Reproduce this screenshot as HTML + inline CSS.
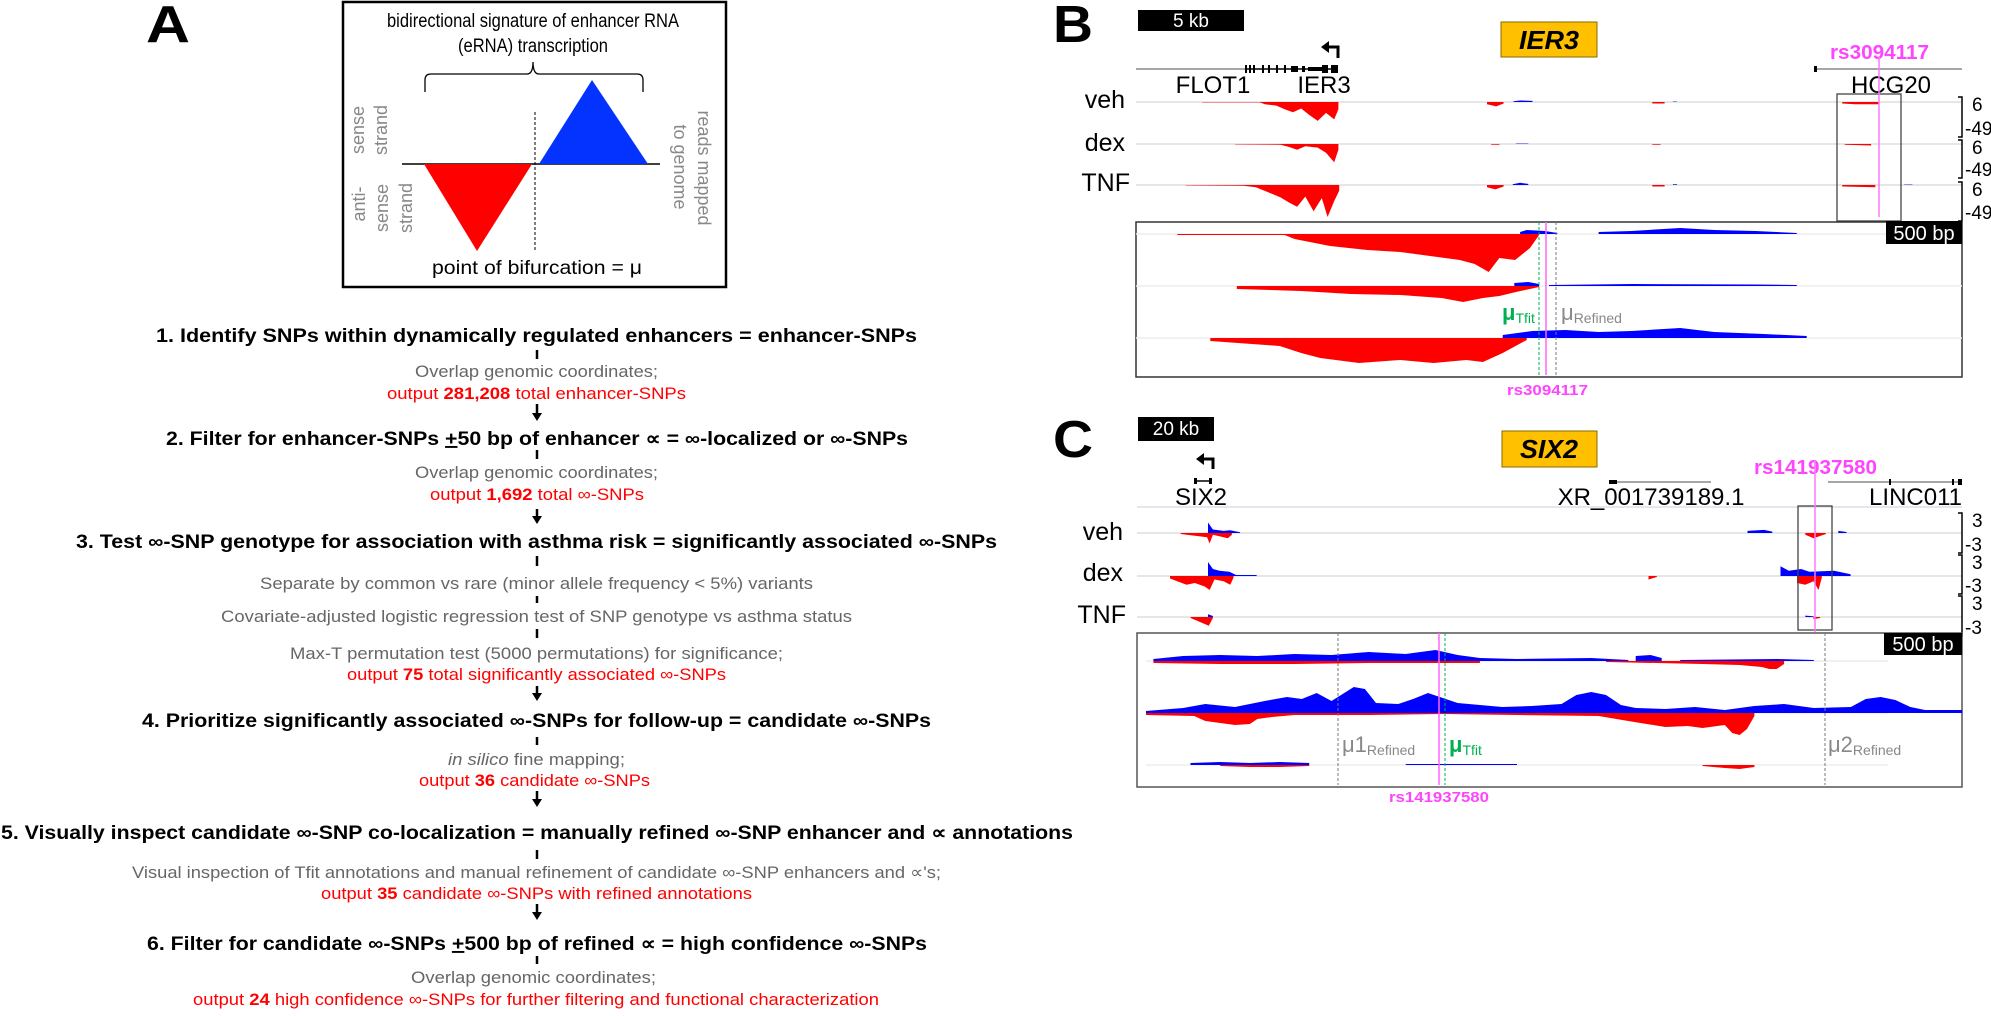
<!DOCTYPE html>
<html><head><meta charset="utf-8"><title>eRNA enhancer SNP pipeline</title>
<style>
html,body{margin:0;padding:0;background:#fff;}
svg{display:block;font-family:"Liberation Sans",Arial,sans-serif;}
.h{font-weight:bold;font-size:19px;fill:#000;}
.g{font-size:17px;fill:#666;}
.r{font-size:17px;fill:#f00;}
.lab{font-size:24px;fill:#000;}
.gray{fill:#888;font-size:18px;}
</style></head>
<body>
<svg id="fig" width="1991" height="1016" viewBox="0 0 1991 1016" xmlns="http://www.w3.org/2000/svg">
<!-- PANEL A -->
<g>
<text x="168" y="42" text-anchor="middle" font-weight="bold" font-size="52" textLength="44" lengthAdjust="spacingAndGlyphs">A</text>
<rect x="343" y="2" width="383" height="285" fill="none" stroke="#000" stroke-width="2.5"/>
<text x="533" y="27" text-anchor="middle" font-size="19" textLength="292" lengthAdjust="spacingAndGlyphs">bidirectional signature of enhancer RNA</text>
<text x="533" y="52" text-anchor="middle" font-size="19" textLength="150" lengthAdjust="spacingAndGlyphs">(eRNA) transcription</text>
<path d="M425 92 L425 80 Q425 74 431 74 L527 74 Q533 74 533 62 Q533 74 539 74 L637 74 Q643 74 643 80 L643 92" fill="none" stroke="#000" stroke-width="1.3"/>
<line x1="402" y1="164" x2="660" y2="164" stroke="#000" stroke-width="1.5"/>
<line x1="535" y1="112" x2="535" y2="250" stroke="#000" stroke-width="1" stroke-dasharray="3,2"/>
<polygon points="424,164 532,164 477,251" fill="#ff0000"/>
<polygon points="539,164 648,164 592,80" fill="#0433ff"/>
<g class="gray">
<text transform="translate(358,130) rotate(-90)" text-anchor="middle" dominant-baseline="central">sense</text>
<text transform="translate(381,130) rotate(-90)" text-anchor="middle" dominant-baseline="central">strand</text>
<text transform="translate(359,204) rotate(-90)" text-anchor="middle" dominant-baseline="central">anti-</text>
<text transform="translate(382,208) rotate(-90)" text-anchor="middle" dominant-baseline="central">sense</text>
<text transform="translate(406,208) rotate(-90)" text-anchor="middle" dominant-baseline="central">strand</text>
<text transform="translate(704,168) rotate(90)" text-anchor="middle" dominant-baseline="central">reads mapped</text>
<text transform="translate(680,167) rotate(90)" text-anchor="middle" dominant-baseline="central">to genome</text>
</g>
<text x="537" y="274" text-anchor="middle" font-size="19" textLength="210" lengthAdjust="spacingAndGlyphs">point of bifurcation = μ</text>

<g>
<text class="h" x="156" y="342" textLength="761" lengthAdjust="spacingAndGlyphs">1. Identify SNPs within dynamically regulated enhancers = enhancer-SNPs</text>
<text class="g" x="415" y="377" textLength="243" lengthAdjust="spacingAndGlyphs">Overlap genomic coordinates;</text>
<text class="r" x="387" y="399" textLength="299" lengthAdjust="spacingAndGlyphs">output <tspan font-weight="bold">281,208</tspan> total enhancer-SNPs</text>

<text class="h" x="166" y="445" textLength="742" lengthAdjust="spacingAndGlyphs">2. Filter for enhancer-SNPs <tspan text-decoration="underline">+</tspan>50 bp of enhancer ∝ = ∞-localized or ∞-SNPs</text>
<text class="g" x="415" y="478" textLength="243" lengthAdjust="spacingAndGlyphs">Overlap genomic coordinates;</text>
<text class="r" x="430" y="500" textLength="214" lengthAdjust="spacingAndGlyphs">output <tspan font-weight="bold">1,692</tspan> total ∞-SNPs</text>

<text class="h" x="76" y="548" textLength="921" lengthAdjust="spacingAndGlyphs">3. Test ∞-SNP genotype for association with asthma risk = significantly associated ∞-SNPs</text>
<text class="g" x="260" y="589" textLength="553" lengthAdjust="spacingAndGlyphs">Separate by common vs rare (minor allele frequency &lt; 5%) variants</text>
<text class="g" x="221" y="622" textLength="631" lengthAdjust="spacingAndGlyphs">Covariate-adjusted logistic regression test of SNP genotype vs asthma status</text>
<text class="g" x="290" y="659" textLength="493" lengthAdjust="spacingAndGlyphs">Max-T permutation test (5000 permutations) for significance;</text>
<text class="r" x="347" y="680" textLength="379" lengthAdjust="spacingAndGlyphs">output <tspan font-weight="bold">75</tspan> total significantly associated ∞-SNPs</text>

<text class="h" x="142" y="727" textLength="789" lengthAdjust="spacingAndGlyphs">4. Prioritize significantly associated ∞-SNPs for follow-up = candidate ∞-SNPs</text>
<text class="g" x="448" y="765" textLength="177" lengthAdjust="spacingAndGlyphs"><tspan font-style="italic">in silico</tspan> fine mapping;</text>
<text class="r" x="419" y="786" textLength="231" lengthAdjust="spacingAndGlyphs">output <tspan font-weight="bold">36</tspan> candidate ∞-SNPs</text>

<text class="h" x="1" y="839" textLength="1072" lengthAdjust="spacingAndGlyphs">5. Visually inspect candidate ∞-SNP co-localization = manually refined ∞-SNP enhancer and ∝ annotations</text>
<text class="g" x="132" y="878" textLength="809" lengthAdjust="spacingAndGlyphs">Visual inspection of Tfit annotations and manual refinement of candidate ∞-SNP enhancers and ∝'s;</text>
<text class="r" x="321" y="899" textLength="431" lengthAdjust="spacingAndGlyphs">output <tspan font-weight="bold">35</tspan> candidate ∞-SNPs with refined annotations</text>

<text class="h" x="147" y="950" textLength="780" lengthAdjust="spacingAndGlyphs">6. Filter for candidate ∞-SNPs <tspan text-decoration="underline">+</tspan>500 bp of refined ∝ = high confidence ∞-SNPs</text>
<text class="g" x="411" y="983" textLength="245" lengthAdjust="spacingAndGlyphs">Overlap genomic coordinates;</text>
<text class="r" x="193" y="1005" textLength="686" lengthAdjust="spacingAndGlyphs">output <tspan font-weight="bold">24</tspan> high confidence ∞-SNPs for further filtering and functional characterization</text>

<g stroke="#000" stroke-width="2.5">
<line x1="537" y1="350" x2="537" y2="359"/><line x1="537" y1="450" x2="537" y2="459"/>
<line x1="537" y1="556" x2="537" y2="566"/><line x1="537" y1="596" x2="537" y2="603"/><line x1="537" y1="629" x2="537" y2="638"/>
<line x1="537" y1="737" x2="537" y2="745"/><line x1="537" y1="850" x2="537" y2="859"/><line x1="537" y1="956" x2="537" y2="964"/>
<line x1="537" y1="404" x2="537" y2="414"/><line x1="537" y1="509" x2="537" y2="517"/><line x1="537" y1="686" x2="537" y2="694"/>
<line x1="537" y1="791" x2="537" y2="800"/><line x1="537" y1="904" x2="537" y2="913"/>
</g>
<g fill="#000">
<polygon points="532,413 542,413 537,421"/><polygon points="532,516 542,516 537,524"/><polygon points="532,693 542,693 537,701"/>
<polygon points="532,799 542,799 537,807"/><polygon points="532,912 542,912 537,920"/>
</g>
</g>
</g>

<!-- PANEL B -->
<g>
<text x="1073" y="42" text-anchor="middle" font-weight="bold" font-size="52" textLength="40" lengthAdjust="spacingAndGlyphs">B</text>
<rect x="1138" y="10" width="106" height="21" fill="#000"/>
<text x="1191" y="27" fill="#fff" font-size="19" text-anchor="middle">5 kb</text>
<rect x="1501" y="22" width="96" height="35" fill="#ffc000" stroke="#8a6a00" stroke-width="1"/>
<text x="1549" y="49" text-anchor="middle" font-weight="bold" font-style="italic" font-size="26" textLength="60" lengthAdjust="spacingAndGlyphs">IER3</text>
<text x="1830" y="59" fill="#ff44ff" font-weight="bold" font-size="20" textLength="99" lengthAdjust="spacingAndGlyphs">rs3094117</text>
<g>
<line x1="1136" y1="69" x2="1245" y2="69" stroke="#888" stroke-width="1.5"/>
<line x1="1245" y1="69" x2="1338" y2="69" stroke="#000" stroke-width="1.5"/>
<g fill="#000"><rect x="1245" y="65" width="2" height="8"/><rect x="1249" y="65" width="2" height="8"/><rect x="1253" y="65" width="2" height="8"/><rect x="1262" y="65" width="2" height="8"/><rect x="1268" y="65" width="2" height="8"/><rect x="1276" y="65" width="2" height="8"/><rect x="1284" y="65" width="2" height="8"/><rect x="1291" y="66" width="7" height="6"/><rect x="1302" y="66" width="3" height="6"/><rect x="1308" y="67" width="14" height="4"/><rect x="1322" y="65" width="6" height="8"/><rect x="1331" y="65" width="7" height="8"/></g>
<path d="M1338 58 L1338 47 L1326 47" fill="none" stroke="#000" stroke-width="3"/><polygon points="1321,47 1329,41 1329,53" fill="#000"/>
<line x1="1815" y1="69" x2="1962" y2="69" stroke="#888" stroke-width="1.5"/><rect x="1814" y="66" width="3" height="6" fill="#000"/>
<text class="lab" x="1213" y="93" text-anchor="middle">FLOT1</text>
<text class="lab" x="1324" y="93" text-anchor="middle">IER3</text>
<text class="lab" x="1891" y="93" text-anchor="middle">HCG20</text>
</g>
<g font-size="25" text-anchor="end">
<text x="1125" y="108">veh</text><text x="1125" y="151">dex</text><text x="1130" y="191">TNF</text>
</g>
<g id="bTracks"></g>
<rect x="1837" y="94" width="64" height="127" fill="none" stroke="#444" stroke-width="1.3"/>
<line x1="1879" y1="57" x2="1879" y2="217" stroke="#ff77ff" stroke-width="1.5"/>
<g id="bAxis"></g>
<rect x="1136" y="222" width="826" height="155" fill="none" stroke="#333" stroke-width="1.5"/>
<g id="bZoom"></g>
<rect x="1886" y="221" width="76" height="23" fill="#000"/>
<text x="1924" y="240" fill="#fff" font-size="20" text-anchor="middle">500 bp</text>
<line x1="1539" y1="222" x2="1539" y2="375" stroke="#00b050" stroke-width="1" stroke-dasharray="3,2"/>
<line x1="1546" y1="222" x2="1546" y2="375" stroke="#ff66ff" stroke-width="1.5"/>
<line x1="1556" y1="222" x2="1556" y2="375" stroke="#777" stroke-width="1" stroke-dasharray="3,2"/>
<text x="1502" y="320" fill="#00b050" font-weight="bold" font-size="22">μ<tspan font-size="14" font-weight="normal" dy="3">Tfit</tspan></text>
<text x="1561" y="320" fill="#888" font-size="22">μ<tspan font-size="14" dy="3">Refined</tspan></text>
<text x="1507" y="395" fill="#ff44ff" font-weight="bold" font-size="15" textLength="81" lengthAdjust="spacingAndGlyphs">rs3094117</text>
</g>

<!-- PANEL C -->
<g>
<text x="1073" y="457" text-anchor="middle" font-weight="bold" font-size="52" textLength="40" lengthAdjust="spacingAndGlyphs">C</text>
<rect x="1138" y="417" width="76" height="24" fill="#000"/>
<text x="1176" y="435" fill="#fff" font-size="19" text-anchor="middle">20 kb</text>
<rect x="1502" y="431" width="95" height="36" fill="#ffc000" stroke="#8a6a00" stroke-width="1"/>
<text x="1549" y="458" text-anchor="middle" font-weight="bold" font-style="italic" font-size="26" textLength="58" lengthAdjust="spacingAndGlyphs">SIX2</text>
<text x="1754" y="474" fill="#ff44ff" font-weight="bold" font-size="20" textLength="123" lengthAdjust="spacingAndGlyphs">rs141937580</text>
<g>
<path d="M1213 469 L1213 459 L1201 459" fill="none" stroke="#000" stroke-width="3"/><polygon points="1196,459 1204,453 1204,465" fill="#000"/>
<line x1="1195" y1="481" x2="1211" y2="481" stroke="#000" stroke-width="1.5"/><rect x="1194" y="478" width="3" height="6"/><rect x="1209" y="478" width="3" height="6"/>
<line x1="1609" y1="482" x2="1711" y2="482" stroke="#888" stroke-width="1.5"/><rect x="1609" y="480" width="8" height="4"/>
<line x1="1828" y1="482" x2="1962" y2="482" stroke="#888" stroke-width="1.5"/><rect x="1889" y="479" width="2" height="6"/><rect x="1952" y="479" width="2" height="6"/><rect x="1958" y="479" width="4" height="6"/>
<text class="lab" x="1201" y="505" text-anchor="middle">SIX2</text>
<text class="lab" x="1651" y="505" text-anchor="middle">XR_001739189.1</text>
<text class="lab" x="1962" y="505" text-anchor="end">LINC011</text>
</g>
<line x1="1137" y1="507" x2="1962" y2="507" stroke="#e6e6ee" stroke-width="2"/>
<g font-size="25" text-anchor="end">
<text x="1123" y="540">veh</text><text x="1123" y="581">dex</text><text x="1126" y="623">TNF</text>
</g>
<g id="cTracks"></g>
<rect x="1798" y="506" width="34" height="124" fill="none" stroke="#444" stroke-width="1.3"/>
<line x1="1815" y1="460" x2="1815" y2="632" stroke="#ff77ff" stroke-width="1.5"/>
<g id="cAxis"></g>
<rect x="1137" y="633" width="825" height="154" fill="none" stroke="#555" stroke-width="1.5"/>
<g id="cZoom"></g>
<rect x="1884" y="633" width="78" height="22" fill="#000"/>
<text x="1923" y="651" fill="#fff" font-size="20" text-anchor="middle">500 bp</text>
<line x1="1338" y1="633" x2="1338" y2="785" stroke="#777" stroke-width="1" stroke-dasharray="3,2"/>
<line x1="1439" y1="633" x2="1439" y2="785" stroke="#ff66ff" stroke-width="1.5"/>
<line x1="1445" y1="633" x2="1445" y2="785" stroke="#00b050" stroke-width="1" stroke-dasharray="3,2"/>
<line x1="1825" y1="633" x2="1825" y2="785" stroke="#777" stroke-width="1" stroke-dasharray="3,2"/>
<text x="1342" y="752" fill="#888" font-size="22">μ1<tspan font-size="14" dy="3">Refined</tspan></text>
<text x="1449" y="752" fill="#00b050" font-weight="bold" font-size="22">μ<tspan font-size="14" font-weight="normal" dy="3">Tfit</tspan></text>
<text x="1828" y="752" fill="#888" font-size="22">μ2<tspan font-size="14" dy="3">Refined</tspan></text>
<text x="1389" y="802" fill="#ff44ff" font-weight="bold" font-size="15" textLength="100" lengthAdjust="spacingAndGlyphs">rs141937580</text>
</g>
</svg>
<script>
// Genomic position in % of browser window; signal values in track units (negative = antisense)
// Panel B overview (units: reads, axis 6 to -49)
const bVehNeg = [[[8,-0.5],[15,-0.5],[15.6,-3],[17,-5],[18,-10],[19,-14],[20,-9],[21,-18],[22,-26],[23,-15],[24,-24],[24.5,-10]],[[42.5,-3],[43.6,-6],[44.5,-2]],[[62.5,-2],[64,-2]],[[85.5,-2],[87,-3],[90,-3]]];
const bVehPos = [[[45.7,1],[46.5,2],[48,1.5]],[[65,0.5],[65.5,0.5]]];
const bDexNeg = [[[12,-0.5],[17.5,-1],[18.5,-4],[19.5,-8],[20.5,-3],[22,-5],[23,-12],[24,-25],[24.5,-8]],[[43,-1],[44,-1]],[[62.5,-1],[63.5,-1]],[[85.8,-1],[89,-2]]];
const bDexPos = [[[46,0.5],[47.5,0.5]]];
const bTnfNeg = [[[6,-0.5],[13,-1],[14.5,-3],[16,-10],[17.5,-17],[18.5,-24],[19.5,-30],[20.5,-16],[21.5,-36],[22.5,-18],[23.2,-44],[24,-22],[24.6,-8]],[[42.5,-3],[43.5,-6],[44.5,-2]],[[62.5,-2],[64,-2]],[[85.5,-2],[89.5,-3]]];
const bTnfPos = [[[45.6,1],[46.5,3],[47.5,1.5]],[[65,1],[65.5,1]],[[93,0.5],[94,0.5]]];
// Panel B zoom (500 bp window)
const bz1Neg = [[[5,-1],[18,-1],[19.2,-5],[23.5,-12],[28,-16],[32,-18],[35.6,-22],[39.2,-26],[41,-30],[42.7,-38],[44,-24],[45.9,-26],[47.7,-14],[48.8,-1]]];
const bz1Pos = [[[46.5,2],[47.3,4],[49.5,3],[51,1]],[[56,2],[60,3],[65.9,6],[70,4],[75,3],[80,1]]];
const bz2Neg = [[[12.2,-3],[20,-5],[26,-8],[32,-9],[37,-12],[39.6,-16],[42,-12],[44,-10],[46,-6],[48.8,-1]]];
const bz2Pos = [[[45.8,3],[47.5,4],[48.8,2]],[[50,1],[60,2],[75,1.5],[80,1]]];
const bz3Neg = [[[9,-3],[17.4,-8],[20,-15],[22.3,-20],[27,-25],[32,-22],[36,-25],[40,-22],[42,-24],[44.4,-15],[47.3,-2]]];
const bz3Pos = [[[44.4,3],[48,7],[52,8],[56,6],[60,7],[65.9,10],[70,6],[76,4],[81.2,2]]];
// Panel C overview (units: reads, axis 3 to -3)
const cVehPos = [[[8.6,3],[9.2,1],[10.5,0.6],[11.3,0.8],[12.5,0.2]],[[74,0.6],[76,0.9],[77,0.4]],[[85,0.6],[86,0.3]]];
const cVehNeg = [[[5.3,-0.3],[8.5,-1.2],[8.8,-3],[9.2,-0.5],[11,-1.5],[11.5,-0.5]],[[81,-0.5],[82,-1.5],[83.5,-0.3]]];
const cDexPos = [[[8.6,4],[9.2,2],[10,1.5],[11.2,1.2],[12,0.3],[14.5,0.3]],[[78,2.8],[79,1.5],[80.5,2],[81.5,1.2],[84.5,1.5],[86.5,0.5]]];
const cDexNeg = [[[4,-0.7],[6,-2.5],[7,-2],[8.2,-3],[8.8,-4],[9.4,-1],[10.5,-1.5],[11.3,-2.5],[11.7,-0.5]],[[62,-1],[63,-0.3]],[[80,-2],[81,-2.5],[82,-1.5],[82.6,-4],[83,-0.5]]];
const cTnfPos = [[[8.6,0.8],[9.2,0.3]],[[81,0.4],[82,0.2]]];
const cTnfNeg = [[[6.5,-0.3],[8.7,-2.5],[9.2,-0.3]],[[82,-0.6],[82.8,-0.3]]];
// Panel C zoom (500 bp window)
const cz1Pos = [[[1,2],[5,5],[10,6],[15,5],[20,7],[25,6],[30,9],[35,7],[39,11],[42,6],[45,3],[50,2],[60,3],[65,1]],[[66,5],[68,6],[69.5,3]],[[72,1],[85,2],[90,1]]];
const cz1Neg = [[[1,-2],[10,-3],[20,-3],[30,-2],[45,-2]],[[62,-1],[75,-3],[80,-4],[83,-6],[84,-8],[85,-8],[86,-3]]];
const cz2Pos = [[[0,2],[5,5],[8,9],[12,6],[16,12],[19,16],[21,14],[23,20],[25,12],[28,26],[29.5,24],[31,10],[34,9],[36,14],[38,20],[40,15],[42,10],[45,8],[48,6],[52,7],[56,9],[58,18],[60,21],[62,18],[64,8],[66,5],[70,4],[74,6],[78,3],[82,7],[86,9],[90,5],[95,6],[97,14],[99,16],[101,13],[103,6],[105,3],[110,3]]];
const cz2Neg = [[[0,-2],[6.5,-3],[8,-8],[10,-10],[12,-12],[14,-11],[15,-6],[17,-4],[20,-2],[30,-2],[40,-1],[50,-2],[61,-3],[65,-8],[70,-14],[73,-13],[75,-15],[78,-12],[79,-20],[80,-22],[81,-16],[82,-3]]];
const cz3Pos = [[[6,2],[10,3],[14,2],[18,3],[22,2]],[[35,1],[50,1]]];
const cz3Neg = [[[10,-1],[14,-2],[18,-2],[22,-1]],[[75,-1],[78,-3],[80,-4],[82,-2]]];

const NS = "http://www.w3.org/2000/svg";
function mk(tag, attrs, parent){ const e=document.createElementNS(NS,tag); for(const k in attrs) e.setAttribute(k,attrs[k]); parent.appendChild(e); return e; }
function xScale(x0,x1){ return p => x0 + (x1-x0)*p/100; }
function yScale(base, pxPerUnit, maxPx){ return v => base - Math.max(-maxPx, Math.min(maxPx, v*pxPerUnit)); }
function area(parent, blocks, xs, ys, color, name){
  blocks.forEach(b=>{
    let xa = Math.min(...b.map(d=>xs(d[0])));
    let pts = [[xs(b[0][0]), ys(0)]];
    b.forEach(d=>pts.push([xs(d[0]), ys(d[1])]));
    pts.push([xs(b[b.length-1][0]), ys(0)]);
    const p = mk('polygon',{points:pts.map(q=>q[0].toFixed(1)+','+q[1].toFixed(1)).join(' '),fill:color},parent);
    
    
  });
}
function track(parent, x0, x1, base, ppu, maxPx, pos, neg, name, lineColor){
  const xs = xScale(x0,x1), ys = yScale(base,ppu,maxPx);
  const ln = mk('line',{x1:x0,y1:base,x2:x1,y2:base,stroke:lineColor||'#ddd','stroke-width':1.5},parent);
  
  
  area(parent, neg, xs, ys, '#ff0000', name+'-antisense');
  area(parent, pos, xs, ys, '#0000ff', name+'-sense');
}
function bracket(parent, x, y1, y2, top, bot){
  mk('path',{d:`M${x-4} ${y1} L${x} ${y1} L${x} ${y2} L${x-4} ${y2}`,fill:'none',stroke:'#000','stroke-width':1.5},parent);
  const t1 = mk('text',{x:x+10,y:y1+14,'font-size':19},parent); t1.textContent=top;
  const t2 = mk('text',{x:x+3,y:y2-2,'font-size':19},parent); t2.textContent=bot;
}
const bT = document.getElementById('bTracks');
track(bT,1136,1962,102,0.727,32,bVehPos,bVehNeg,'b-veh-track');
track(bT,1136,1962,144,0.727,32,bDexPos,bDexNeg,'b-dex-track');
track(bT,1136,1962,185,0.727,34,bTnfPos,bTnfNeg,'b-tnf-track');
const bA = document.getElementById('bAxis');
bracket(bA,1962,97,137,'6','-49'); bracket(bA,1962,140,178,'6','-49'); bracket(bA,1962,182,221,'6','-49');
const bZ = document.getElementById('bZoom');
track(bZ,1136,1962,234,1,40,bz1Pos,bz1Neg,'b-zoom-veh','#eee');
track(bZ,1136,1962,286,1,40,bz2Pos,bz2Neg,'b-zoom-dex','#eee');
track(bZ,1136,1962,338,1,36,bz3Pos,bz3Neg,'b-zoom-tnf','#eee');
const cT = document.getElementById('cTracks');
track(cT,1137,1962,533,3.5,13,cVehPos,cVehNeg,'c-veh-track');
track(cT,1137,1962,576,3.5,15,cDexPos,cDexNeg,'c-dex-track');
track(cT,1137,1962,617,3.5,12,cTnfPos,cTnfNeg,'c-tnf-track');
const cA = document.getElementById('cAxis');
bracket(cA,1962,513,553,'3','-3'); bracket(cA,1962,555,594,'3','-3'); bracket(cA,1962,596,636,'3','-3');
const cZ = document.getElementById('cZoom');
const czx0=1146, czx1=1962;
track(cZ,czx0,czx0+(czx1-czx0)/1.1*1,661,1,30,[],[],'c-zoom-veh','#eee');
track(cZ,1146,1888,661,1,30,cz1Pos,cz1Neg,'c-zoom-veh-signal','#eee');
track(cZ,1146,1888,713,1,30,cz2Pos,cz2Neg,'c-zoom-dex','#eee');
track(cZ,1146,1888,765,1,30,cz3Pos,cz3Neg,'c-zoom-tnf','#eee');
</script>
</body></html>
